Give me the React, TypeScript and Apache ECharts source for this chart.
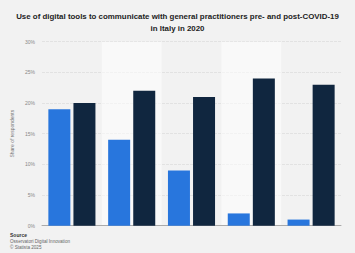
import React, { useEffect, useRef } from "react";
import * as echarts from "echarts";

const categories = ["Email", "Phone", "WhatsApp", "Video call", "App"];
const preCovid = [19, 14, 9, 2, 1];
const postCovid = [20, 22, 21, 24, 23];
const yTicks = [0, 5, 10, 15, 20, 25, 30];

export default function App() {
  const ref = useRef<HTMLDivElement>(null);
  useEffect(() => {
    const chart = echarts.init(ref.current!, undefined, { renderer: "svg" });
    chart.setOption({
      animation: false,
      backgroundColor: "#f2f2f2",
      title: {
        text: "Use of digital tools to communicate with general practitioners pre- and post-COVID-19\nin Italy in 2020",
        left: "center",
        top: 6,
        textStyle: {
          fontFamily: "Liberation Sans, Arial, sans-serif",
          fontSize: 7.9,
          fontWeight: "bold",
          color: "#222",
          lineHeight: 11.5,
        },
      },
      grid: { left: 42, right: 14, top: 41.7, bottom: 27.3 },
      xAxis: {
        type: "category",
        data: categories,
        axisLabel: { show: false, interval: 0 },
        axisTick: { show: false, interval: 0 },
        axisLine: { lineStyle: { color: "#aaaaaa", width: 1 } },
        splitArea: {
          show: true,
          interval: 0,
          areaStyle: { color: ["rgba(0,0,0,0)", "rgba(255,255,255,0.55)"] },
        },
      },
      yAxis: {
        type: "value",
        min: yTicks[0],
        max: yTicks[yTicks.length - 1],
        interval: 5,
        name: "Share of respondents",
        nameLocation: "middle",
        nameGap: 22,
        nameTextStyle: { fontSize: 5, color: "#777", fontFamily: "Liberation Sans, Arial, sans-serif" },
        axisLabel: {
          formatter: "{value}%",
          fontSize: 5,
          color: "#888",
          margin: 7,
          fontFamily: "Liberation Sans, Arial, sans-serif",
        },
        splitLine: { lineStyle: { color: "#dddddd", width: 0.8, type: [3, 1] } },
        axisLine: { show: false },
        axisTick: { show: false },
      },
      series: [
        {
          type: "bar",
          name: "Pre-COVID-19",
          data: preCovid,
          barWidth: 22,
          barGap: "14%",
          itemStyle: { color: "#2876dd" },
        },
        {
          type: "bar",
          name: "Post-COVID-19",
          data: postCovid,
          barWidth: 22,
          itemStyle: { color: "#10263f" },
        },
      ],
      graphic: [
        {
          type: "text",
          left: 10,
          top: 232,
          style: { text: "Source", fontSize: 5, fontWeight: "bold", fill: "#333", fontFamily: "Liberation Sans, Arial, sans-serif" },
        },
        {
          type: "text",
          left: 10,
          top: 239,
          style: { text: "Osservatori Digital Innovation", fontSize: 4.6, fill: "#666", fontFamily: "Liberation Sans, Arial, sans-serif" },
        },
        {
          type: "text",
          left: 10,
          top: 245,
          style: { text: "© Statista 2025", fontSize: 4.6, fill: "#666", fontFamily: "Liberation Sans, Arial, sans-serif" },
        },
      ],
    });
    return () => chart.dispose();
  }, []);
  return <div ref={ref} style={{ width: 355, height: 253, position: "absolute", left: 0, top: 0 }} />;
}
